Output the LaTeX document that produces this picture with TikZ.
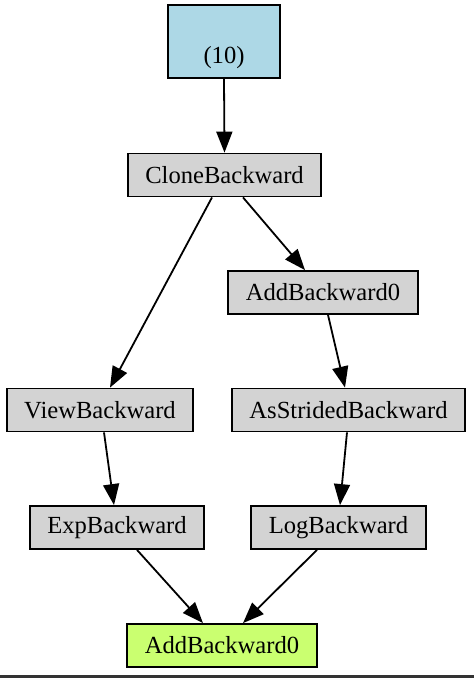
\documentclass[tikz,border=0pt]{standalone}
\usepackage{fontspec}
\setmainfont{Liberation Serif}
\usetikzlibrary{arrows.meta}
\definecolor{varblue}{HTML}{ADD8E6}
\definecolor{gradgray}{HTML}{D3D3D3}
\definecolor{outgreen}{HTML}{CAFF70}
\tikzset{
  fnbox/.style={draw, line width=1.8pt, fill=gradgray, inner xsep=17.5pt,
    minimum height=43pt, font=\fontsize{24.6}{29.5}\selectfont},
  edge/.style={line width=1.8pt, -{Triangle[length=21pt,width=16pt]}}
}
\begin{document}
\begin{tikzpicture}[x=1pt,y=-1pt]
  \useasboundingbox (0,0) rectangle (474,678);
  \fill[black!80] (0,675) rectangle (474,678);
  % nodes
  \node[fnbox, fill=varblue, minimum width=112pt, minimum height=73pt, inner xsep=0pt,
    align=center] (var) at (224,41.5) {\strut\\(10)};
  \node[fnbox] (clone) at (224.5,175) {CloneBackward};
  \node[fnbox] (add) at (323,292.5) {AddBackward0};
  \node[fnbox] (view) at (100,410) {ViewBackward};
  \node[fnbox] (strided) at (348.5,410) {AsStridedBackward};
  \node[fnbox] (exp) at (117,527.5) {ExpBackward};
  \node[fnbox] (log) at (338.5,527.5) {LogBackward};
  \node[fnbox, fill=outgreen] (out) at (222,645.5) {AddBackward0};
  % edges
  \draw[edge] (var.south) -- (clone.north);
  \draw[edge] ([xshift=-12.5pt]clone.south) -- ([xshift=10pt]view.north);
  \draw[edge] ([xshift=18.5pt]clone.south) -- ([xshift=-18pt]add.north);
  \draw[edge] ([xshift=5pt]add.south) -- ([xshift=-3.5pt]strided.north);
  \draw[edge] ([xshift=4pt]view.south) -- ([xshift=-3pt]exp.north);
  \draw[edge] ([xshift=-1.5pt]strided.south) -- ([xshift=1.5pt]log.north);
  \draw[edge] ([xshift=20pt]exp.south) -- ([xshift=-19pt]out.north);
  \draw[edge] ([xshift=-21.5pt]log.south) -- ([xshift=21pt]out.north);
\end{tikzpicture}
\end{document}
